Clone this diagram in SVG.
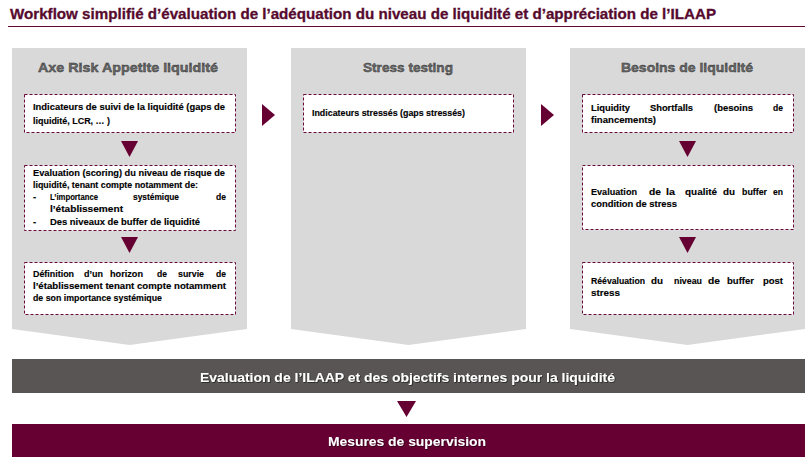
<svg xmlns="http://www.w3.org/2000/svg" width="805" height="460" viewBox="0 0 805 460">
<defs>
<style>
.col{fill:#d9d9d9}
.box{fill:#fff;stroke:#6b0a3a;stroke-width:1;stroke-dasharray:3 2}
.tri{fill:#660033}
.hd{font-family:"Liberation Sans",Arial,sans-serif;font-weight:bold;font-size:13px;fill:#6a6a6a;stroke:#2e2e2e;stroke-width:0.4;text-anchor:middle}
.t{font-family:"Liberation Sans",Arial,sans-serif;font-weight:bold;font-size:9.5px;fill:#000;stroke:#000;stroke-width:0.15}
.bar{font-family:"Liberation Sans",Arial,sans-serif;font-weight:bold;font-size:13px;fill:#fff}
.title{font-family:"Liberation Sans",Arial,sans-serif;font-weight:bold;font-size:15px;fill:#560a2e;stroke:#560a2e;stroke-width:0.3}
</style>
<filter id="sh" x="-5%" y="-20%" width="110%" height="140%">
<feDropShadow dx="0.8" dy="0.8" stdDeviation="0.3" flood-color="#000" flood-opacity="0.6"/>
</filter>
</defs>
<rect width="805" height="460" fill="#fff"/>
<g id="title">
<text class="title" x="10" y="19" textLength="706" lengthAdjust="spacingAndGlyphs">Workflow simplifié d’évaluation de l’adéquation du niveau de liquidité et d’appréciation de l’ILAAP</text>
<line x1="8" y1="26.5" x2="805" y2="26.5" stroke="#5c0a32" stroke-width="1.2"/>
</g>
<g id="col-risk">
<polygon class="col" points="12,48 247,48 247,329 129.5,345 12,329"/>
<text class="hd" x="128" y="72" textLength="180" lengthAdjust="spacingAndGlyphs">Axe Risk Appetite liquidité</text>
</g>
<g id="col-stress">
<polygon class="col" points="291,48 526,48 526,329 408.5,345 291,329"/>
<text class="hd" x="408" y="72" textLength="90" lengthAdjust="spacingAndGlyphs">Stress testing</text>
</g>
<g id="col-besoins">
<polygon class="col" points="570,48 805,48 805,329 687.5,345 570,329"/>
<text class="hd" x="687" y="72" textLength="132" lengthAdjust="spacingAndGlyphs">Besoins de liquidité</text>
</g>
<g id="box-indicateurs">
<rect class="box" x="24.5" y="94.5" width="211" height="38"/>
<text class="t" x="33" y="110" textLength="192" lengthAdjust="spacingAndGlyphs">Indicateurs de suivi de la liquidité (gaps de</text>
<text class="t" x="33" y="124" textLength="77" lengthAdjust="spacingAndGlyphs">liquidité, LCR, … )</text>
</g>
<g id="box-scoring">
<rect class="box" x="24.5" y="165.5" width="211" height="65"/>
<text class="t" x="33" y="176" textLength="192" lengthAdjust="spacingAndGlyphs">Evaluation (scoring) du niveau de risque de</text>
<text class="t" x="33" y="188" textLength="165" lengthAdjust="spacingAndGlyphs">liquidité, tenant compte notamment de:</text>
<text class="t" y="200"><tspan x="33">-</tspan><tspan x="50" textLength="48" lengthAdjust="spacingAndGlyphs">L’importance</tspan><tspan x="133" textLength="46" lengthAdjust="spacingAndGlyphs">systémique</tspan><tspan x="216" textLength="10" lengthAdjust="spacingAndGlyphs">de</tspan></text>
<text class="t" x="50" y="212" textLength="73" lengthAdjust="spacingAndGlyphs">l’établissement</text>
<text class="t" y="225"><tspan x="33">-</tspan><tspan x="50" textLength="150" lengthAdjust="spacingAndGlyphs">Des niveaux de buffer de liquidité</tspan></text>
</g>
<g id="box-horizon">
<rect class="box" x="24.5" y="262.5" width="211" height="52"/>
<text class="t" y="277"><tspan x="33" textLength="41" lengthAdjust="spacingAndGlyphs">Définition</tspan><tspan x="84" textLength="19" lengthAdjust="spacingAndGlyphs">d’un</tspan><tspan x="110" textLength="33" lengthAdjust="spacingAndGlyphs">horizon</tspan><tspan x="157" textLength="10" lengthAdjust="spacingAndGlyphs">de</tspan><tspan x="178" textLength="26" lengthAdjust="spacingAndGlyphs">survie</tspan><tspan x="216" textLength="10" lengthAdjust="spacingAndGlyphs">de</tspan></text>
<text class="t" x="33" y="289" textLength="193" lengthAdjust="spacingAndGlyphs">l’établissement tenant compte notamment</text>
<text class="t" x="33" y="301" textLength="129" lengthAdjust="spacingAndGlyphs">de son importance systémique</text>
</g>
<g id="box-stresses">
<rect class="box" x="303.5" y="94.5" width="210" height="38"/>
<text class="t" x="312" y="116" textLength="153" lengthAdjust="spacingAndGlyphs">Indicateurs stressés (gaps stressés)</text>
</g>
<g id="box-shortfalls">
<rect class="box" x="582.5" y="94.5" width="211" height="38"/>
<text class="t" y="111"><tspan x="591" textLength="39" lengthAdjust="spacingAndGlyphs">Liquidity</tspan><tspan x="650" textLength="43" lengthAdjust="spacingAndGlyphs">Shortfalls</tspan><tspan x="714" textLength="39" lengthAdjust="spacingAndGlyphs">(besoins</tspan><tspan x="773" textLength="10" lengthAdjust="spacingAndGlyphs">de</tspan></text>
<text class="t" x="591" y="123" textLength="65" lengthAdjust="spacingAndGlyphs">financements)</text>
</g>
<g id="box-qualite">
<rect class="box" x="582.5" y="165.5" width="211" height="64"/>
<text class="t" y="195"><tspan x="591" textLength="46" lengthAdjust="spacingAndGlyphs">Evaluation</tspan><tspan x="649" textLength="12" lengthAdjust="spacingAndGlyphs">de</tspan><tspan x="666" textLength="9" lengthAdjust="spacingAndGlyphs">la</tspan><tspan x="685" textLength="32" lengthAdjust="spacingAndGlyphs">qualité</tspan><tspan x="723" textLength="12" lengthAdjust="spacingAndGlyphs">du</tspan><tspan x="742" textLength="25" lengthAdjust="spacingAndGlyphs">buffer</tspan><tspan x="773" textLength="10" lengthAdjust="spacingAndGlyphs">en</tspan></text>
<text class="t" x="591" y="207" textLength="86" lengthAdjust="spacingAndGlyphs">condition de stress</text>
</g>
<g id="box-reevaluation">
<rect class="box" x="582.5" y="262.5" width="211" height="52"/>
<text class="t" y="284"><tspan x="591" textLength="54" lengthAdjust="spacingAndGlyphs">Réévaluation</tspan><tspan x="651" textLength="12" lengthAdjust="spacingAndGlyphs">du</tspan><tspan x="674" textLength="28" lengthAdjust="spacingAndGlyphs">niveau</tspan><tspan x="708" textLength="12" lengthAdjust="spacingAndGlyphs">de</tspan><tspan x="727" textLength="27" lengthAdjust="spacingAndGlyphs">buffer</tspan><tspan x="763" textLength="20" lengthAdjust="spacingAndGlyphs">post</tspan></text>
<text class="t" x="591" y="296" textLength="29" lengthAdjust="spacingAndGlyphs">stress</text>
</g>
<g id="bar-ilaap">
<rect x="12" y="359" width="793" height="34" fill="#595555"/>
<text class="bar" x="200" y="382" textLength="415" lengthAdjust="spacingAndGlyphs" filter="url(#sh)">Evaluation de l’ILAAP et des objectifs internes pour la liquidité</text>
</g>
<g id="bar-supervision">
<rect x="12" y="424" width="793" height="33" fill="#660033"/>
<text class="bar" x="407" y="446" text-anchor="middle" textLength="158" lengthAdjust="spacingAndGlyphs" filter="url(#sh)">Mesures de supervision</text>
</g>
<g id="connectors">
<polygon class="tri" points="121,141 138,141 129.5,157"/>
<polygon class="tri" points="121,237 138,237 129.5,253"/>
<polygon class="tri" points="679,141 696,141 687.5,157"/>
<polygon class="tri" points="679,237 696,237 687.5,253"/>
<polygon class="tri" points="262,104 275,115 262,126"/>
<polygon class="tri" points="541,104 554,115 541,126"/>
<polygon class="tri" points="397,401 416,401 406.5,417"/>
</g>
</svg>
